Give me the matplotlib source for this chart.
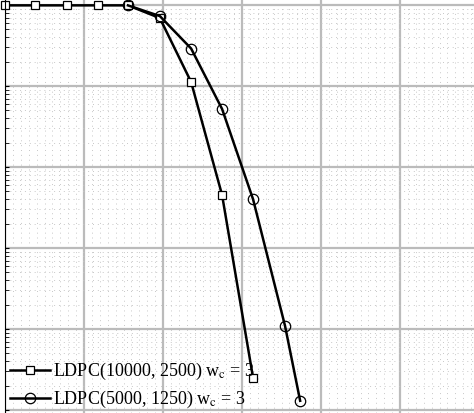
import numpy as np
import matplotlib.pyplot as plt
from matplotlib.ticker import MultipleLocator, LogLocator

# Eb/N0-like axis values and error rates
x_sq = [1.0, 1.095, 1.196, 1.294, 1.389, 1.49, 1.589, 1.687, 1.785]
y_sq = [0.99, 0.99, 0.99, 0.99, 0.99, 0.69, 0.112, 4.5e-3, 2.5e-5]
x_ci = [1.389, 1.49, 1.589, 1.687, 1.785, 1.886, 1.934]
y_ci = [0.99, 0.73, 0.29, 0.052, 4.0e-3, 1.1e-4, 1.3e-5]
labels = [r'LDPC(10000, 2500) w$_\mathrm{c}$ = 3', r'LDPC(5000, 1250) w$_\mathrm{c}$ = 3']

plt.rcParams['font.family'] = ['Liberation Serif', 'DejaVu Serif']
plt.rcParams['mathtext.fontset'] = 'stix'

fig = plt.figure(figsize=(4.74, 4.13), dpi=100)
ax = fig.add_axes([5 / 474, 0, 1 - 5 / 474, 1])
ax.set_yscale('log')
ax.set_xlim(1.0, 1.0 + 469 / 316)
ax.set_ylim(10 ** (-408 / 81), 10 ** (5 / 81))

ax.xaxis.set_major_locator(MultipleLocator(0.25))
ax.xaxis.set_minor_locator(MultipleLocator(0.025))
ax.yaxis.set_major_locator(LogLocator(base=10, numticks=20))
ax.yaxis.set_minor_locator(LogLocator(base=10, subs=np.arange(2, 10), numticks=20))
ax.grid(True, which='major', color='#bbbbbb', lw=1.6)
ax.grid(True, which='minor', color='#c8c8c8', lw=0.7, ls=(0, (1, 4)))
ax.tick_params(which='both', direction='in', labelleft=False, labelbottom=False,
               bottom=False, left=True, length=3)
for s in ['top', 'right', 'bottom']:
    ax.spines[s].set_visible(False)
ax.set_axisbelow(True)

ax.plot(x_sq, y_sq, color='black', lw=1.8, marker='s', ms=6, mfc='white',
        mec='black', mew=0.9, label=labels[0], clip_on=False)
ax.plot(x_ci, y_ci, color='black', lw=1.8, marker='o', ms=7.5, mfc='none',
        mec='black', mew=0.9, label=labels[1], clip_on=False)

ax.legend(loc='lower left', bbox_to_anchor=(-0.005, -0.01), fontsize=13, frameon=False,
          handlelength=2.2, borderaxespad=0.0, labelspacing=0.35, handletextpad=0.2)
fig.savefig('out.png', dpi=100)
